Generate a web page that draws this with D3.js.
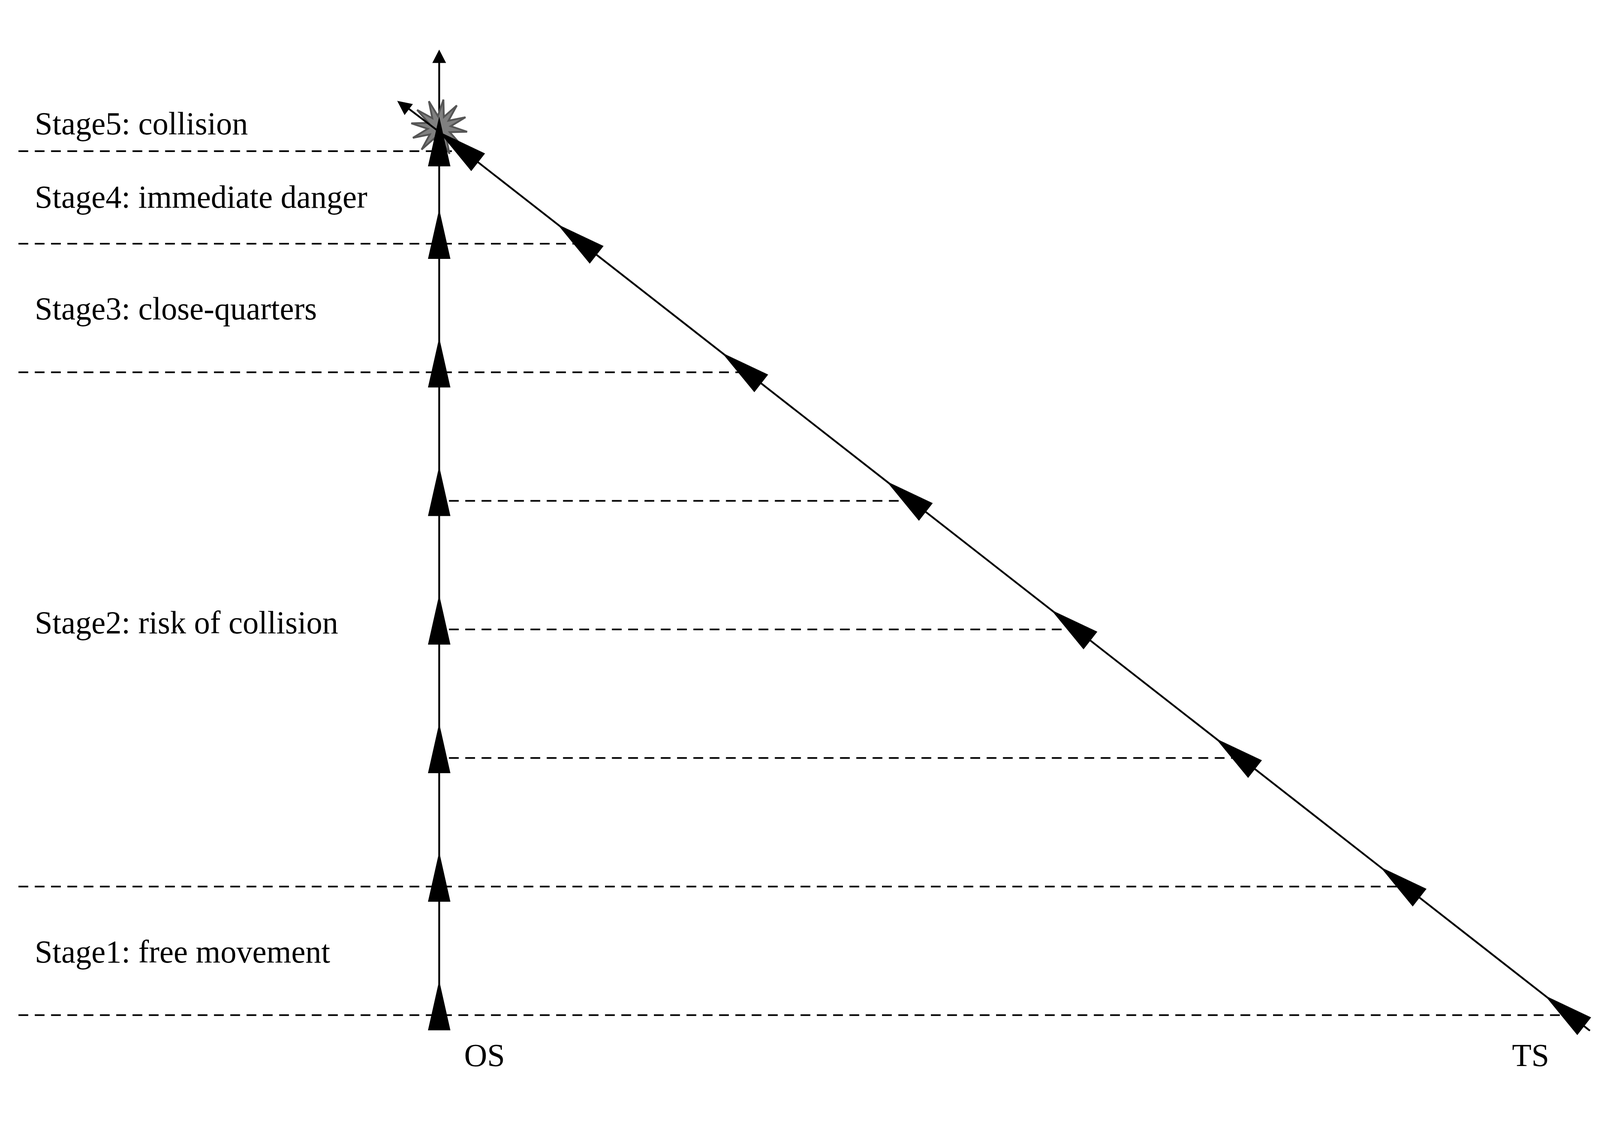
<!DOCTYPE html>
<html><head><meta charset="utf-8">
<script src="https://d3js.org/d3.v7.min.js"></script>
<style>html,body{margin:0;padding:0;background:#fff;overflow:hidden}svg{display:block;width:100vw;height:100vh}</style></head>
<body><script>
// time steps (OS travel) of the dashed boundaries
const boundaries = [0, 1, 2, 3, 4, 5, 6, 6.72];
const fullWidth  = [true, true, false, false, false, true, true, true];
const arrowSteps = [0, 1, 2, 3, 4, 5, 6, 6.72];
const collisionT = 6.87;
const axisTop = 7.51;
const stageLabels = ["Stage1: free movement","Stage2: risk of collision","Stage3: close-quarters","Stage4: immediate danger","Stage5: collision"];
const stageLabelT = [0.41, 2.97, 5.41, 6.28, 6.85];
const shipLabels = ["OS","TS"];

const W=4419,H=2881;
const svg=d3.select("body").append("svg").attr("viewBox",`0 0 ${W} ${H}`).attr("preserveAspectRatio","xMidYMid meet");
const y=d3.scaleLinear().domain([0,6.72]).range([2691,304]);
const osX=1213, tsX0=4336;
const yMeet=y(collisionT);
const tsX=t=>osX+(tsX0-osX)*(y(t)-yMeet)/(y(0)-yMeet);

svg.selectAll("line.d").data(boundaries).enter().append("line")
 .attr("x1",(d,i)=>fullWidth[i]?51:1240).attr("x2",d=>tsX(d))
 .attr("y1",d=>y(d)).attr("y2",d=>y(d))
 .attr("stroke","#000").attr("stroke-width",4.5).attr("stroke-dasharray","27,18");

svg.append("line").attr("x1",osX).attr("x2",osX).attr("y1",y(0)).attr("y2",y(axisTop)+30)
 .attr("stroke","#000").attr("stroke-width",5);
svg.append("path").attr("d",`M${osX},${y(axisTop)} l-19,37 l38,0 z`).attr("fill","#000");

const ang=Math.atan2(yMeet-y(0),osX-tsX0);
const ext=70;
svg.append("line").attr("x1",tsX(0)-Math.cos(ang)*ext).attr("y1",y(0)-Math.sin(ang)*ext)
 .attr("x2",osX).attr("y2",yMeet).attr("stroke","#000").attr("stroke-width",5);

const star=[];const n=12,cx=osX,cy=yMeet-12;
for(let i=0;i<2*n;i++){const r=i%2?32:78;const a=i*Math.PI/n-Math.PI/2+0.15;star.push([cx+r*Math.cos(a),cy+r*Math.sin(a)]);}
svg.append("path").attr("d",d3.line()(star)+"Z").attr("fill","#808080").attr("stroke","#555").attr("stroke-width",5);

svg.append("line").attr("x1",osX).attr("y1",yMeet).attr("x2",1120).attr("y2",180).attr("stroke","#000").attr("stroke-width",5);
svg.append("path").attr("d","M0,0 L40,-19 L40,19 Z").attr("fill","#000")
 .attr("transform",`translate(1097,165) rotate(${Math.atan2(253-165,1213-1097)*180/Math.PI})`);

const head="M0,0 L138,-31 L138,31 Z";
svg.selectAll("path.os").data(arrowSteps).enter().append("path").attr("d",head).attr("fill","#000")
 .attr("transform",d=>`translate(${osX},${y(d)+42-138}) rotate(90)`);
const deg=ang*180/Math.PI;
svg.selectAll("path.ts").data(arrowSteps).enter().append("path").attr("d",head).attr("fill","#000")
 .attr("transform",d=>{const bx=tsX(d),by=y(d);const tx=bx+Math.cos(ang)*(138-50),ty=by+Math.sin(ang)*(138-50);return `translate(${tx},${ty}) rotate(${deg+180})`;});

svg.selectAll("text.s").data(stageLabels).enter().append("text")
 .attr("x",96).attr("y",(d,i)=>y(stageLabelT[i])).text(d=>d)
 .attr("font-family","Liberation Serif").attr("font-size",88).attr("fill","#000");
svg.selectAll("text.sh").data(shipLabels).enter().append("text")
 .attr("x",(d,i)=>i?4176:1282).attr("y",2832).text(d=>d)
 .attr("font-family","Liberation Serif").attr("font-size",88).attr("fill","#000");
</script></body></html>
